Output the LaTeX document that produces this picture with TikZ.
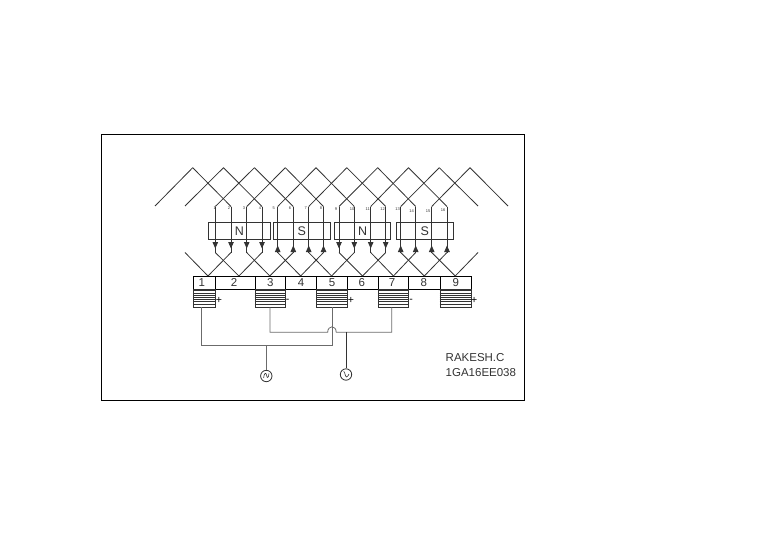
\documentclass[tikz,border=0pt]{standalone}
\usepackage{fontspec}
\setmainfont{Liberation Sans}
\usetikzlibrary{arrows.meta,positioning,calc}
\definecolor{linegray}{gray}{0.2}
\definecolor{wiregray}{gray}{0.42}
\tikzset{
coil/.style={draw=linegray,line width=0.8pt},
arrowtip/.style={coil,-{Triangle[width=5.5pt,length=6.5pt]}},
pole/.style={draw=linegray,line width=0.8pt,minimum height=16.5pt,inner sep=0pt,text=linegray,font=\fontsize{12.5}{13}\selectfont},
segment/.style={draw=black,line width=0.8pt,minimum height=13.3pt,inner sep=0pt},
number/.style={inner sep=0pt,text=linegray,font=\fontsize{11.5}{12}\selectfont},
stack/.style={draw=linegray,line width=0.7pt,minimum height=18pt,inner sep=0pt},
stripe/.style={draw=linegray,line width=1pt},
tiny/.style={inner sep=0pt,text=linegray,font=\fontsize{4}{4.5}\selectfont},
sign/.style={inner sep=0pt,text=black,font=\fontsize{10.5}{11}\selectfont},
wire/.style={draw=wiregray,line width=0.8pt},
source/.style={circle,draw=linegray,line width=0.8pt,minimum size=11.4pt,inner sep=0pt},
caption/.style={inner sep=0pt,anchor=base west,text=linegray,font=\fontsize{11.5}{13}\selectfont}
}
\begin{document}
\begin{tikzpicture}[x=1pt,y=-1pt]
\useasboundingbox (0,0) rectangle (768,543);
\node[draw=black,line width=0.9pt,minimum width=423pt,minimum height=266pt,inner sep=0pt] (frame) at (312.5,267) {};
% poles
\node[pole,minimum width=62pt] (N1) at (239.3,231) {N};
\node[pole,minimum width=56.7pt] (S1) at (301.7,231) {S};
\node[pole,minimum width=56pt] (N2) at (362.7,231) {N};
\node[pole,minimum width=57pt] (S2) at (424.8,231) {S};
% peaks and free ends
\coordinate (p1) at (192.7,167.7);
\coordinate (p2) at (223.5,167.7);
\coordinate (p3) at (254.4,167.7);
\coordinate (p4) at (285.3,167.7);
\coordinate (p5) at (316,167.7);
\coordinate (p6) at (346.8,167.7);
\coordinate (p7) at (377.7,167.7);
\coordinate (p8) at (408.5,167.7);
\coordinate (p9) at (439.3,167.7);
\coordinate (p10) at (470,167.7);
\coordinate (f1) at (155,206);
\coordinate (f2) at (185,206);
\coordinate (f3) at (478,206);
\coordinate (f4) at (508,206);
\coordinate (g1) at (185,252.5);
\coordinate (g2) at (478,252.5);
% coil sides: top, arrow, bottom
\foreach \i/\xx in {1/215.3,2/231,3/246.7,4/262,5/277.7,6/293.3,7/308.7,8/323.5,9/339,10/354.3,11/370.7,12/385.7,13/400.7,14/415.7,15/431.7,16/447}{
\coordinate (t\i) at (\xx,206.5);
\coordinate (b\i) at (\xx,252.5);
\draw[coil] (t\i) -- (b\i);
}
\foreach \i/\xx in {1/215.3,2/231,3/246.7,4/262,9/339,10/354.3,11/370.7,12/385.7}{
\coordinate (a\i) at (\xx,248.5);
\draw[arrowtip] (t\i) -- (a\i);
}
\foreach \i/\xx in {5/277.7,6/293.3,7/308.7,8/323.5,13/400.7,14/415.7,15/431.7,16/447}{
\coordinate (a\i) at (\xx,245.5);
\draw[arrowtip] (b\i) -- (a\i);
}
\path[coil]
(p1) edge (f1) edge (t2)
(p2) edge (f2) edge (t4)
(p3) edge (t1) edge (t6)
(p4) edge (t3) edge (t8)
(p5) edge (t5) edge (t10)
(p6) edge (t7) edge (t12)
(p7) edge (t9) edge (t14)
(p8) edge (t11) edge (t16)
(p9) edge (t13) edge (f3)
(p10) edge (t15) edge (f4);
% commutator
\node[segment,minimum width=22.4pt] (C1) at (204.5,282.7) {};
\node[segment,minimum width=39.3pt] (C2) at (235.35,282.7) {};
\node[segment,minimum width=30.7pt] (C3) at (270.35,282.7) {};
\node[segment,minimum width=31pt] (C4) at (301.2,282.7) {};
\node[segment,minimum width=30.6pt] (C5) at (332,282.7) {};
\node[segment,minimum width=31pt] (C6) at (362.8,282.7) {};
\node[segment,minimum width=30.4pt] (C7) at (393.5,282.7) {};
\node[segment,minimum width=31.3pt] (C8) at (424.35,282.7) {};
\node[segment,minimum width=31.3pt] (C9) at (455.65,282.7) {};
\node[number] (n1) at (201.7,282.6) {1};
\node[number] (n2) at (234,282.6) {2};
\node[number] (n3) at (270.3,282.6) {3};
\node[number] (n4) at (301,282.6) {4};
\node[number] (n5) at (332,282.6) {5};
\node[number] (n6) at (361.7,282.6) {6};
\node[number] (n7) at (392,282.6) {7};
\node[number] (n8) at (423.7,282.6) {8};
\node[number] (n9) at (455.7,282.6) {9};
\coordinate (v1) at (208,276);
\coordinate (v2) at (238.9,276);
\coordinate (v3) at (269.8,276);
\coordinate (v4) at (300.7,276);
\coordinate (v5) at (331.6,276);
\coordinate (v6) at (362.5,276);
\coordinate (v7) at (393.4,276);
\coordinate (v8) at (424.3,276);
\coordinate (v9) at (455.2,276);
\path[coil]
(v1) edge (g1) edge (b2)
(v2) edge (b1) edge (b4)
(v3) edge (b3) edge (b6)
(v4) edge (b5) edge (b8)
(v5) edge (b7) edge (b10)
(v6) edge (b9) edge (b12)
(v7) edge (b11) edge (b14)
(v8) edge (b13) edge (b16)
(v9) edge (b15) edge (g2);
% field coils
\node[stack,minimum width=22.4pt] (F1) at (204.5,298.3) {};
\node[stack,minimum width=30.7pt] (F3) at (270.35,298.3) {};
\node[stack,minimum width=30.6pt] (F5) at (332,298.3) {};
\node[stack,minimum width=30.4pt] (F7) at (393.5,298.3) {};
\node[stack,minimum width=31.3pt] (F9) at (455.65,298.3) {};
\foreach \f in {F1,F3,F5,F7,F9}{
\foreach \k in {2,4.2,6.4,8.6,10.8,13,15.2}{
\draw[stripe] ($(\f.north west)+(0,\k)$) -- ($(\f.north east)+(0,\k)$);
}
}
\node[sign] (s1) at (219,300.5) {+};
\node[sign] (s3) at (287.5,300.5) {-};
\node[sign] (s5) at (351,300.5) {+};
\node[sign] (s7) at (411,300.5) {-};
\node[sign] (s9) at (474.3,300.5) {+};
% supply
\node[source] (A1) at (266.3,376) {};
\node[source] (A2) at (346,374.5) {};
\coordinate (w1) at (201.7,307.3);
\coordinate (w1b) at (201.7,345.7);
\coordinate (w5) at (332,307.3);
\coordinate (w5b) at (332,345.7);
\coordinate (j1) at (266.3,345.7);
\coordinate (w3) at (270,307.3);
\coordinate (w3b) at (270,332.3);
\coordinate (h1) at (327.7,332.3);
\coordinate (h2) at (336.2,332.3);
\coordinate (w7) at (391.7,307.3);
\coordinate (w7b) at (391.7,332.3);
\coordinate (j2) at (346,332.3);
\draw[wire] (w1) -- (w1b) -- (w5b) -- (w5);
\draw[wire] (j1) -- (A1);
\draw[wire] (w3) -- (w3b) -- (h1) .. controls (327.7,325) and (336.2,325) .. (h2) -- (w7b) -- (w7);
\draw[coil] (j2) -- (A2);
\draw[coil,line width=0.6pt] (263.6,378) .. controls (264,373) and (266,372) .. (266.5,375) .. controls (267,379) and (268.5,378) .. (269,373.5);
\draw[coil,line width=0.6pt] (343.5,371.5) .. controls (345,371) and (345,377) .. (346.5,377) .. controls (348,377) and (348,375) .. (349,374);
% small numbers
\node[tiny] (l1) at (214.7,208.5) {1};
\node[tiny] (l2) at (229,208.5) {2};
\node[tiny] (l3) at (244,208.5) {3};
\node[tiny] (l4) at (260,208.5) {4};
\node[tiny] (l5) at (273.7,208) {5};
\node[tiny] (l6) at (290,208.5) {6};
\node[tiny] (l7) at (305.7,208.5) {7};
\node[tiny] (l8) at (321,208.5) {8};
\node[tiny] (l9) at (336,209.5) {9};
\node[tiny] (l10) at (352,209.5) {10};
\node[tiny] (l11) at (367.7,209.5) {11};
\node[tiny] (l12) at (382.7,209.5) {12};
\node[tiny] (l13) at (397.7,209.5) {13};
\node[tiny] (l14) at (411.7,211) {14};
\node[tiny] (l15) at (428,211) {15};
\node[tiny] (l16) at (443,210) {16};
\node[caption] (name) at (445.5,361.7) {RAKESH.C};
\node[caption] (usn) at (445.5,376) {1GA16EE038};
\end{tikzpicture}
\end{document}
